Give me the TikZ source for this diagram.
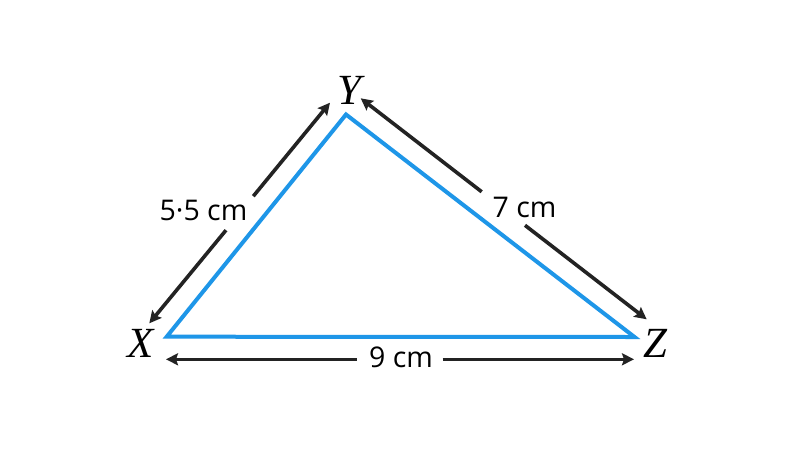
\documentclass[tikz,border=0pt]{standalone}
\usepackage{fontspec}
\setmainfont{Open Sans}
\newfontfamily\lblfont{Liberation Serif}
\usetikzlibrary{arrows.meta}
\definecolor{triblue}{RGB}{30,150,232}
\definecolor{arrdark}{RGB}{35,35,35}
\tikzset{
  side/.style={draw=triblue,line width=4pt,line join=miter},
  dim/.style={draw=arrdark,line width=3.6pt},
  dimtip/.style={dim,-{Stealth[length=12pt,width=12pt,inset=2pt]}},
  vlabel/.style={font=\lblfont\itshape\fontsize{43}{43}\selectfont,inner sep=0pt,text=black},
  dlabel/.style={font=\fontsize{28.5}{28.5}\selectfont,inner sep=0pt,text=black}
}
\begin{document}
\begin{tikzpicture}[x=1pt,y=-1pt]
\useasboundingbox (0,0) rectangle (800,450);
\fill[white] (0,0) rectangle (800,450);
% vertices
\coordinate (vX) at (166.7,336.7);
\coordinate (vY) at (346,114.5);
\coordinate (vZ) at (634.5,337);
\draw[side] (vX) -- (vY) -- (vZ) -- cycle;
% vertex labels
\node[vlabel] (X) at (141,343.5) {X};
\node[vlabel] (Y) at (349,90) {Y};
\node[vlabel] (Z) at (655,343.5) {Z};
% left dimension
\coordinate (l1) at (149.3,323.3);
\coordinate (l2) at (226,230.2);
\coordinate (l3) at (253.3,196.2);
\coordinate (l4) at (330,102.7);
\node[dlabel] (lenXY) at (203.5,210.5) {5·5 cm};
\draw[dimtip] (l2) -- (l1);
\draw[dimtip] (l3) -- (l4);
% right dimension
\coordinate (r1) at (360.7,98.3);
\coordinate (r2) at (481.7,191.8);
\coordinate (r3) at (525,225.3);
\coordinate (r4) at (646.7,319.3);
\node[dlabel] (lenYZ) at (524.5,207) {7 cm};
\draw[dimtip] (r2) -- (r1);
\draw[dimtip] (r3) -- (r4);
% bottom dimension
\coordinate (b1) at (166,359.3);
\coordinate (b2) at (356.7,359.3);
\coordinate (b3) at (442.7,359.3);
\coordinate (b4) at (634,359.3);
\node[dlabel] (lenXZ) at (401,357) {9 cm};
\draw[dimtip] (b2) -- (b1);
\draw[dimtip] (b3) -- (b4);
\end{tikzpicture}
\end{document}
